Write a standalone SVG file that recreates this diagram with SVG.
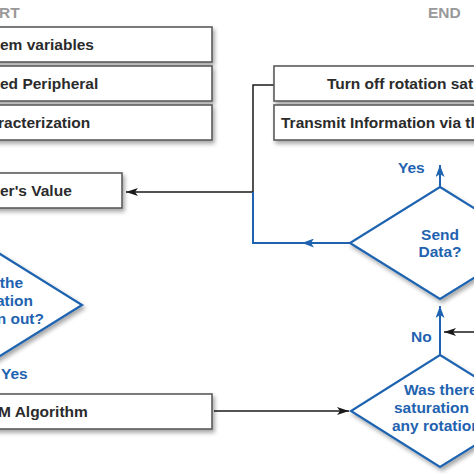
<svg xmlns="http://www.w3.org/2000/svg" width="474" height="474" viewBox="0 0 474 474">
<style>
.box{fill:#fff;stroke:#5a5a5a;stroke-width:1.6;filter:url(#sh)}
.dia{fill:#fff;stroke:#1f63b0;stroke-width:2.2;stroke-linejoin:miter;filter:url(#sh)}
.bt{font-family:"Liberation Sans",Arial,sans-serif;font-weight:bold;font-size:15.5px;fill:#2b2b2b}
.dt{font-family:"Liberation Sans",Arial,sans-serif;font-weight:bold;font-size:15.5px;fill:#1f63b0}
.lt{font-family:"Liberation Sans",Arial,sans-serif;font-weight:bold;font-size:15.5px;fill:#999}
.kl{fill:none;stroke:#1a1a1a;stroke-width:1.5}
.bl{fill:none;stroke:#1f63b0;stroke-width:2}
</style>
<defs>
<filter id="sh" x="-20%" y="-20%" width="140%" height="150%">
<feDropShadow dx="2" dy="3" stdDeviation="2" flood-color="#000" flood-opacity="0.35"/>
</filter>
<marker id="ak" markerWidth="12" markerHeight="8" refX="12" refY="4" orient="auto" markerUnits="userSpaceOnUse">
<path d="M0,0 L12,4 L0,8 L3,4 Z" fill="#1a1a1a"/>
</marker>
<marker id="ab" markerWidth="12" markerHeight="9" refX="12" refY="4.5" orient="auto" markerUnits="userSpaceOnUse">
<path d="M0,0 L12,4.5 L0,9 L3,4.5 Z" fill="#1f63b0"/>
</marker>
</defs>
<rect width="474" height="474" fill="#fff"/>
<g id="labels">
<text class="lt" x="-1" y="18">RT</text>
<text class="lt" x="428" y="18">END</text>
</g>
<g id="connectors">
<path class="kl" d="M274,85 H253 V192 H126" marker-end="url(#ak)"/>
<path class="bl" d="M350,243 H253 V192"/>
<path class="bl" d="M350,243 H302" marker-end="url(#ab)"/>
<path class="bl" d="M440,187 V165" marker-end="url(#ab)"/>
<path class="bl" d="M440,355 V306" marker-end="url(#ab)"/>
<path class="kl" d="M474,332 H444" marker-end="url(#ak)"/>
<path class="kl" d="M214,411 H349" marker-end="url(#ak)"/>
<text class="dt" x="398" y="173">Yes</text>
<text class="dt" x="411" y="342">No</text>
<text class="dt" x="1" y="379">Yes</text>
</g>
<g id="n1"><rect class="box" x="-100" y="27" width="312" height="35"/><text class="bt" x="0" y="50">em variables</text></g>
<g id="n2"><rect class="box" x="-100" y="66" width="312" height="35"/><text class="bt" x="0" y="89">ed Peripheral</text></g>
<g id="n3"><rect class="box" x="-100" y="105" width="312" height="35"/><text class="bt" x="-2" y="128">racterization</text></g>
<g id="n4"><rect class="box" x="-100" y="173" width="222" height="35"/><text class="bt" x="0" y="196">er's Value</text></g>
<g id="n5"><rect class="box" x="-100" y="394" width="312" height="35"/><text class="bt" x="-2" y="417">M Algorithm</text></g>
<g id="n6"><rect class="box" x="274" y="66" width="300" height="35"/><text class="bt" x="327" y="89">Turn off rotation sat</text></g>
<g id="n7"><rect class="box" x="274" y="105" width="300" height="35"/><text class="bt" x="281" y="128">Transmit Information via th</text></g>
<g id="d1"><path class="dia" d="M440,187 L530,243 L440,299 L350,243 Z"/>
<text class="dt" x="440" y="240" text-anchor="middle">Send</text>
<text class="dt" x="440" y="257" text-anchor="middle">Data?</text></g>
<g id="d2"><path class="dia" d="M440,355 L530,411 L440,467 L351,411 Z"/>
<text class="dt" x="404" y="395">Was there</text>
<text class="dt" x="394" y="413">saturation</text>
<text class="dt" x="392" y="431">any rotation</text></g>
<g id="d3"><path class="dia" d="M-8,249 L82,305 L-8,361 L-98,305 Z"/>
<text class="dt" x="23" y="288" text-anchor="end">the</text>
<text class="dt" x="33" y="306" text-anchor="end">ation</text>
<text class="dt" x="44" y="324" text-anchor="end">n out?</text></g>
</svg>
